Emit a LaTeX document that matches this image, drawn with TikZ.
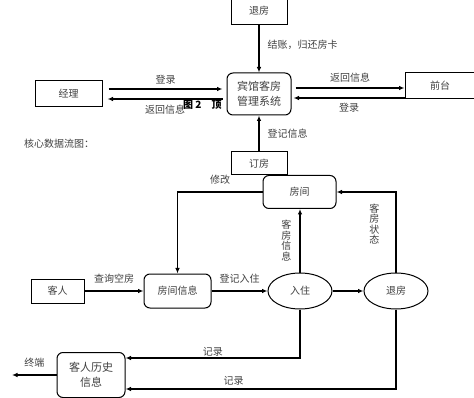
\documentclass[tikz,border=0pt]{standalone}
\usepackage{fontspec}
\setmainfont{Noto Sans CJK SC}
\usetikzlibrary{arrows.meta,shapes.geometric}

\begin{document}
\begin{tikzpicture}[x=1pt, y=-1pt, every node/.style={font=\fontsize{10}{12}\selectfont, text=black!75}, >={Latex[length=5.5pt,width=4.5pt]},
	box/.style={draw, line width=1pt, fill=white, inner sep=1pt},
	rbox/.style={box, rounded corners=6pt},
	proc/.style={draw, line width=1pt, fill=white, ellipse, inner sep=0pt},
	lab/.style={font=\fontsize{10}{10.5}\selectfont, inner sep=0pt, align=center},
	flow/.style={->, line width=1.1pt}]
	\useasboundingbox (0,0) rectangle (474,398);
	\node[anchor=west, text=black, font=\bfseries\fontsize{10}{12}\selectfont, inner sep=0pt] (cap) at (183,105) {图 2\quad 顶};
	\node[box, minimum width=56pt, minimum height=28pt] (leave) at (259,11) {退房};
	\node[rbox, minimum width=64pt, minimum height=42pt, align=center, font=\fontsize{11}{15}\selectfont] (sys) at (259,94) {宾馆客房\\管理系统};
	\node[box, minimum width=67pt, minimum height=26pt] (mgr) at (68.5,94) {经理};
	\node[box, minimum width=70pt, minimum height=26pt] (desk) at (440,86) {前台};
	\node[box, minimum width=56pt, minimum height=23pt] (book) at (259,163.5) {订房};
	\node[rbox, minimum width=73pt, minimum height=33pt] (room) at (299.5,192) {房间};
	\node[rbox, minimum width=67pt, minimum height=34pt] (info) at (177.5,291) {房间信息};
	\node[box, minimum width=53pt, minimum height=24pt] (guest) at (57.5,291) {客人};
	\node[proc, minimum width=64pt, minimum height=36pt] (checkin) at (300,291) {入住};
	\node[proc, minimum width=64pt, minimum height=36pt] (checkout) at (396,291) {退房};
	\node[rbox, minimum width=68pt, minimum height=45pt, align=center, font=\fontsize{11}{15}\selectfont] (hist) at (91,375) {客人历史\\信息};
	\coordinate (term) at (12,375);
	\draw[flow] (leave) -- (sys) node[pos=0.42, right=8pt, lab] {结账，归还房卡};
	\draw[flow] ([shift={(6pt,5pt)}]mgr.east) -- ([shift={(-4pt,5pt)}]sys.west) node[midway, above=4pt, lab] {登录};
	\draw[flow] ([shift={(-4pt,-5pt)}]sys.west) -- ([shift={(5pt,-5pt)}]mgr.east) node[midway, below=5pt, lab] {返回信息};
	\draw[flow] ([shift={(4pt,6pt)}]sys.east) -- ([yshift=-2pt]desk.west) node[midway, above=5pt, lab] {返回信息};
	\draw[flow] ([yshift=-12pt]desk.west) -- ([shift={(2pt,-4pt)}]sys.east) node[midway, below=5pt, lab] {登录};
	\draw[flow] (book) -- (sys) node[midway, right=8pt, lab] {登记信息};
	\draw[flow] (room.west) -| (info.north) node[pos=0.25, above=7pt, lab] {修改};
	\draw[flow] (guest) -- (info) node[midway, above=7pt, lab] {查询空房};
	\draw[flow] (info) -- (checkin) node[midway, above=7pt, lab] {登记入住};
	\draw[flow] (checkin) -- (checkout);
	\draw[flow] (checkin.north) -- (checkin.north |- room.south) node[midway, left=8pt, lab] {客\\房\\信\\息};
	\draw[flow] (checkout.north) |- (room.east) node[pos=0.3, left=16pt, lab] {客\\房\\状\\态};
	\draw[flow] (checkin.south) |- ([yshift=17pt]hist.east) node[pos=0.75, above=1pt, lab] {记录};
	\draw[flow] (checkout.south) |- ([yshift=-14pt]hist.east) node[pos=0.8, above=3pt, lab] {记录};
	\draw[flow] (hist.west) -- (term) node[midway, above=7pt, lab] {终端};
	\node[anchor=west, inner sep=0pt] (core) at (24,144) {核心数据流图：};
\end{tikzpicture}
\end{document}
